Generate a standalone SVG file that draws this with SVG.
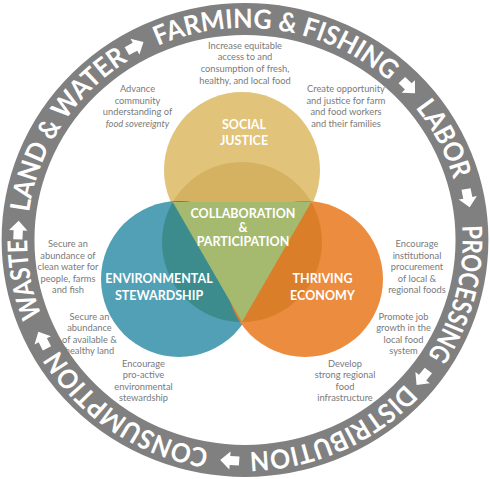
<svg xmlns="http://www.w3.org/2000/svg" width="490" height="479" viewBox="0 0 490 479">
<defs>
<style>
.ring{fill:none;stroke:#808080;stroke-width:32}
.rt{font-family:Lato,"Open Sans","Liberation Sans",sans-serif;font-weight:700;font-size:26.5px;fill:#fff}
.sm{font-family:Lato,"Liberation Sans",sans-serif;font-size:9.3px;fill:#7a7a7a;text-anchor:middle}
.lb{font-family:Lato,"Liberation Sans",sans-serif;font-weight:700;font-size:12.5px;fill:#fff;text-anchor:middle}
.arr{fill:#fff}
</style>
<path id="tp" d="M245,452 A212,212 0 1 1 245,28 A212,212 0 1 1 245,452"/>
<polygon id="arr" points="-9,-4.5 0,-4.5 0,-9 9.5,0 0,9 0,4.5 -9,4.5"/>
<clipPath id="cc"><circle cx="242" cy="242" r="80"/></clipPath>
</defs>
<rect width="490" height="479" fill="#fff"/>
<g id="cycle" transform="matrix(1.027 0 0 1 -6.615 0)">
<g id="ring">
<circle class="ring" cx="245" cy="240" r="221"/>
<text class="rt"><textPath href="#tp" startOffset="578.3" textLength="240.5" lengthAdjust="spacingAndGlyphs">FARMING &amp; FISHING</textPath></text>
<text class="rt"><textPath href="#tp" startOffset="855.8" textLength="81.4" lengthAdjust="spacingAndGlyphs">LABOR</textPath></text>
<text class="rt"><textPath href="#tp" startOffset="984.2" textLength="136.9" lengthAdjust="spacingAndGlyphs">PROCESSING</textPath></text>
<text class="rt"><textPath href="#tp" startOffset="1156.6" textLength="170.6" lengthAdjust="spacingAndGlyphs">DISTRIBUTION</textPath></text>
<text class="rt"><textPath href="#tp" startOffset="35.2" textLength="182.4" lengthAdjust="spacingAndGlyphs">CONSUMPTION</textPath></text>
<text class="rt"><textPath href="#tp" startOffset="255.3" textLength="77.7" lengthAdjust="spacingAndGlyphs">WASTE</textPath></text>
<text class="rt"><textPath href="#tp" startOffset="360.8" textLength="185" lengthAdjust="spacingAndGlyphs">LAND &amp; WATER</textPath></text>
</g>
<g id="connectors" class="arr">
<use href="#arr" transform="rotate(331 245 240) translate(245 19)"/>
<use href="#arr" transform="rotate(46 245 240) translate(245 19)"/>
<use href="#arr" transform="rotate(79 245 240) translate(245 19)"/>
<use href="#arr" transform="rotate(128.5 245 240) translate(245 19)"/>
<use href="#arr" transform="rotate(183.8 245 240) translate(245 19)"/>
<use href="#arr" transform="rotate(243 245 240) translate(245 19)"/>
<use href="#arr" transform="rotate(272.5 245 240) translate(245 19)"/>
</g>
</g>
<g id="circles">
<circle cx="242" cy="170" r="78" fill="#E1C37A"/>
<circle cx="179" cy="279" r="78" fill="#52A0B5"/>
<circle cx="305" cy="279" r="78" fill="#EC8C3E"/>
<g clip-path="url(#cc)">
<circle cx="242" cy="170" r="78" fill="#D4B261"/>
<circle cx="179" cy="279" r="78" fill="#3C8C8E"/>
<circle cx="305" cy="279" r="78" fill="#DB7E2A"/>
</g>
</g>
<g id="collaboration">
<polygon points="172.7,202 311.3,202 242,322" fill="#A5B96F"/>
<text class="lb" x="243" y="217.5">COLLABORATION</text>
<text class="lb" x="243" y="231.5">&amp;</text>
<text class="lb" x="243" y="245.5">PARTICIPATION</text>
</g>
<g id="social-justice">
<text class="lb" x="244" y="128.5">SOCIAL</text>
<text class="lb" x="244" y="145">JUSTICE</text>
</g>
<g id="environmental-stewardship">
<text class="lb" x="159" y="282.5">ENVIRONMENTAL</text>
<text class="lb" x="159" y="299.5">STEWARDSHIP</text>
</g>
<g id="thriving-economy">
<text class="lb" x="322.5" y="282.5">THRIVING</text>
<text class="lb" x="322.5" y="299.5">ECONOMY</text>
</g>
<g id="goals" class="sm">
<text class="sm" x="245" y="48.7">Increase  equitable</text>
<text class="sm" x="245" y="60.3">access to and</text>
<text class="sm" x="245" y="72">consumption of fresh,</text>
<text class="sm" x="245" y="83.7">healthy, and local food</text>
<text class="sm" x="137.5" y="92">Advance</text>
<text class="sm" x="137.5" y="103.5">community</text>
<text class="sm" x="137.5" y="115">understanding of</text>
<text class="sm" x="137.5" y="126.5" font-style="italic">food sovereignty</text>
<text class="sm" x="346" y="92">Create opportunity</text>
<text class="sm" x="346" y="103.5">and justice for farm</text>
<text class="sm" x="346" y="115">and food workers</text>
<text class="sm" x="346" y="126.5">and their families</text>
<text class="sm" x="68" y="247">Secure an</text>
<text class="sm" x="68" y="258.5">abundance of</text>
<text class="sm" x="68" y="270">clean water for</text>
<text class="sm" x="68" y="281.5">people, farms</text>
<text class="sm" x="68" y="293">and fish</text>
<text class="sm" x="89.5" y="319.5">Secure an</text>
<text class="sm" x="89.5" y="331">abundance</text>
<text class="sm" x="89.5" y="342.5">of available &amp;</text>
<text class="sm" x="89.5" y="354">healthy land</text>
<text class="sm" x="143.5" y="366.5">Encourage</text>
<text class="sm" x="143.5" y="378">pro-active</text>
<text class="sm" x="143.5" y="389.5">environmental</text>
<text class="sm" x="143.5" y="401">stewardship</text>
<text class="sm" x="417" y="247">Encourage</text>
<text class="sm" x="417" y="258.5">institutional</text>
<text class="sm" x="417" y="270">procurement</text>
<text class="sm" x="417" y="281.5">of local &amp;</text>
<text class="sm" x="417" y="293">regional foods</text>
<text class="sm" x="403.5" y="319.5">Promote job</text>
<text class="sm" x="403.5" y="331">growth in the</text>
<text class="sm" x="403.5" y="342.5">local food</text>
<text class="sm" x="403.5" y="354">system</text>
<text class="sm" x="345" y="366.5">Develop</text>
<text class="sm" x="345" y="378">strong regional</text>
<text class="sm" x="345" y="389.5">food</text>
<text class="sm" x="345" y="401">infrastructure</text>
</g>
</svg>
